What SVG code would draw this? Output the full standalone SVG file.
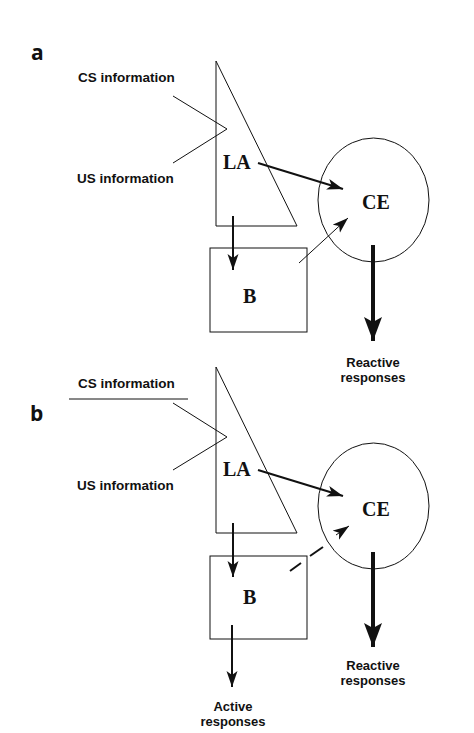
<svg xmlns="http://www.w3.org/2000/svg" width="474" height="733" viewBox="0 0 474 733">
<style>
.lbl{font-family:"Liberation Sans",Arial,sans-serif;font-weight:700;font-size:13.5px;fill:#111}
.l2{font-family:"Liberation Sans",Arial,sans-serif;font-weight:700;font-size:13px;fill:#111}
.pl{font-family:"Open Sans","Liberation Sans",sans-serif;font-weight:700;font-size:21px;fill:#111}
.nd{font-family:"Liberation Serif","Times New Roman",serif;font-weight:700;font-size:20px;fill:#111}
.sh{fill:none;stroke:#111;stroke-width:1}
.ln{fill:none;stroke:#111;stroke-width:1}
.a2{fill:none;stroke:#111;stroke-width:2}
.a4{fill:none;stroke:#111;stroke-width:4}
</style>
<defs>
<marker id="ah" markerUnits="userSpaceOnUse" markerWidth="18" markerHeight="12" refX="16" refY="5.5" orient="auto" viewBox="0 0 18 12">
<path d="M0,0 L16,5.5 L0,11 L4,5.5 z" fill="#111"/>
</marker>
<marker id="big" markerUnits="userSpaceOnUse" markerWidth="26" markerHeight="20" refX="24" refY="9" orient="auto" viewBox="0 0 26 20">
<path d="M0,0 L24,9 L0,18 L5,9 z" fill="#111"/>
</marker>
</defs>
<rect width="474" height="733" fill="#fff"/>

<!-- Panel a -->
<text class="pl" x="31" y="60">a</text>
<g id="cs-a"><text class="lbl" x="78" y="82">CS information</text></g>
<g id="us-a"><text class="lbl" x="77" y="183">US information</text></g>
<g id="la-a"><polygon class="sh" points="216,61 216,226 297,226"/><text class="nd" x="223" y="169">LA</text></g>
<g id="ce-a"><ellipse class="sh" cx="373.5" cy="200" rx="55.5" ry="62"/><text class="nd" x="362" y="209">CE</text></g>
<g id="b-a"><rect class="sh" x="210" y="248" width="97" height="84"/><text class="nd" x="243" y="303">B</text></g>
<g id="rr-a"><text class="l2" text-anchor="middle"><tspan x="373" y="366.5">Reactive</tspan><tspan x="373" y="381.5">responses</tspan></text></g>

<!-- Panel b -->
<text class="pl" x="30" y="421">b</text>
<g id="cs-b"><text class="lbl" x="78" y="388">CS information</text></g>
<g id="us-b"><text class="lbl" x="77" y="490">US information</text></g>
<g id="la-b"><polygon class="sh" points="216,367 216,533 297,533"/><text class="nd" x="223" y="476">LA</text></g>
<g id="ce-b"><ellipse class="sh" cx="373.5" cy="506" rx="55.5" ry="63"/><text class="nd" x="362" y="516">CE</text></g>
<g id="b-b"><rect class="sh" x="210" y="556" width="97" height="83"/><text class="nd" x="243" y="604">B</text></g>
<g id="rr-b"><text class="l2" text-anchor="middle"><tspan x="373" y="669.5">Reactive</tspan><tspan x="373" y="684.5">responses</tspan></text></g>
<g id="ar-b"><text class="l2" text-anchor="middle"><tspan x="233" y="710.5">Active</tspan><tspan x="233" y="725.5">responses</tspan></text></g>

<g id="connectors">
<!-- a -->
<polyline class="ln" points="173,96 227,129 173,163"/>
<line class="a2" x1="258" y1="163" x2="343" y2="189" marker-end="url(#ah)"/>
<line class="ln" x1="299" y1="263" x2="348" y2="218" stroke-width="1.3" marker-end="url(#ah)"/>
<line class="a2" x1="233" y1="216" x2="233" y2="270" marker-end="url(#ah)"/>
<line class="a4" x1="373" y1="245" x2="373" y2="341" marker-end="url(#big)"/>
<!-- b -->
<line class="ln" x1="69" y1="399" x2="188" y2="399"/>
<polyline class="ln" points="173,403 227,437 173,470"/>
<line class="a2" x1="258" y1="470" x2="343" y2="496" marker-end="url(#ah)"/>
<line class="a2" x1="290" y1="571" x2="301" y2="563"/>
<line class="a2" x1="310" y1="556" x2="323" y2="547"/>
<line class="ln" x1="336" y1="535" x2="349" y2="526" stroke-width="0.1" marker-end="url(#ah)"/>
<line class="a2" x1="233" y1="523" x2="233" y2="577" marker-end="url(#ah)"/>
<line class="a2" x1="232" y1="625" x2="232" y2="687" marker-end="url(#ah)"/>
<line class="a4" x1="373" y1="552" x2="373" y2="647" marker-end="url(#big)"/>
</g>
</svg>
